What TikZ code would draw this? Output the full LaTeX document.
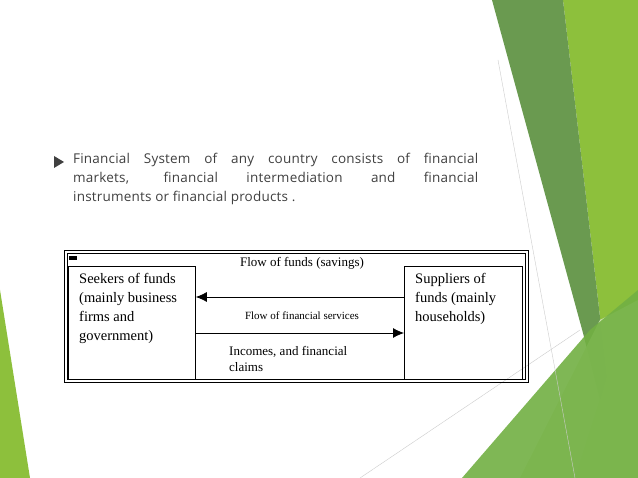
\documentclass[tikz,border=0pt]{standalone}
\usepackage{fontspec}
\setmainfont{Liberation Serif}
\newfontfamily\bodyfont[LetterSpace=1.5]{Open Sans}
\usetikzlibrary{arrows.meta}
\begin{document}
\begin{tikzpicture}[x=1pt,y=-1pt,
  box/.style={draw,line width=0.8pt,anchor=north west,inner sep=0pt},
  txt/.style={anchor=north west,align=left,inner sep=0pt,font=\fontsize{14.5}{19}\selectfont},
  arr/.style={line width=0.8pt,-{Latex[length=11pt,width=10pt]}}]
\useasboundingbox (0,0) rectangle (638,478);
\fill[white] (0,0) rectangle (638,478);
% decorative greens
\fill[color={rgb,255:red,141;green,192;blue,60}] (563,0)--(638,0)--(638,478)--(575,478)--(607,377)--cycle;
\fill[color={rgb,255:red,106;green,154;blue,80}] (492,0)--(563,0)--(607,377)--(600,400)--(583,333)--cycle;
\fill[color={rgb,255:red,214;green,232;blue,186},opacity=0.9] (520,478)--(600,320)--(638,300)--(638,478)--cycle;
\fill[color={rgb,255:red,114;green,176;blue,67},opacity=0.9] (462,478)--(590,330)--(638,290)--(638,478)--cycle;
\fill[color={rgb,255:red,141;green,192;blue,60}] (0,290)--(30,478)--(0,478)--cycle;
\draw[gray!40,line width=0.4pt] (498,60)--(575,478);
\draw[gray!40,line width=0.4pt] (360,478)--(580,330);
% bullet text
\fill[color={rgb,255:red,64;green,64;blue,64}] (54,156)--(64,162)--(54,168)--cycle;
\node (body) [anchor=north west,text width=405pt,inner sep=0pt,align=justify,
  font=\bodyfont\fontsize{13.5}{19}\selectfont,text={rgb,255:red,64;green,64;blue,64}]
  at (73,153) {Financial System of any country consists of financial\linebreak markets, financial intermediation and financial\linebreak instruments or financial products .};
% diagram
\draw[line width=0.8pt] (64,250) rectangle (528,382);
\draw[line width=0.5pt] (67,253) rectangle (525,379);
\fill (69,256) rectangle (77,260);
\node (seek) [box,minimum width=127pt,minimum height=113pt] at (68,266) {};
\node (supp) [box,minimum width=118pt,minimum height=113pt] at (404,266) {};
\node (seekt) [txt] at (79,273) {Seekers of funds\\(mainly business\\firms and\\government)};
\node (suppt) [txt] at (415,273) {Suppliers of\\funds (mainly\\households)};
\path (seek.north east) ++(0,31) coordinate (a1) (supp.north west) ++(0,31) coordinate (b1);
\path (seek.north east) ++(0,67) coordinate (a2) (supp.north west) ++(0,67) coordinate (b2);
\draw[arr] (b1) -- (a1);
\draw[arr] (a2) -- (b2);
\node (l1) [font=\fontsize{13}{15}\selectfont] at (302,263) {Flow of funds (savings)};
\node (l2) [font=\fontsize{11}{12}\selectfont] at (302,316) {Flow of financial services};
\node (l3) [anchor=north west,align=left,inner sep=0pt,font=\fontsize{13}{16}\selectfont] at (229,346) {Incomes, and financial\\claims};
\end{tikzpicture}
\end{document}
